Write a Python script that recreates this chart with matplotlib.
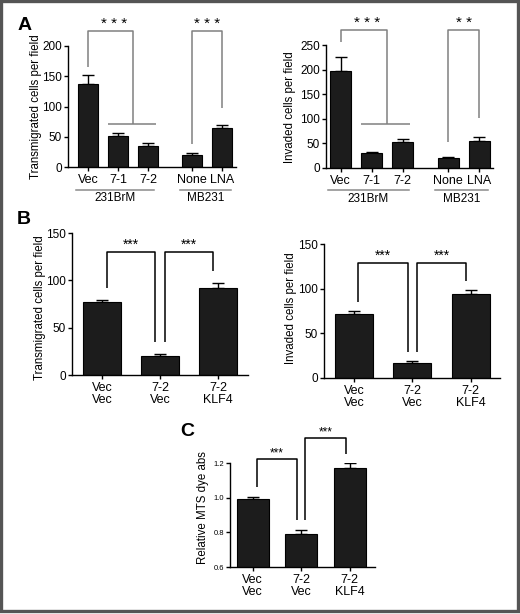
import matplotlib
matplotlib.use("Agg")
import matplotlib.pyplot as plt
from matplotlib.patches import Rectangle

plt.rcParams['font.family'] = ['Liberation Sans', 'DejaVu Sans']

# Panel A data
a_labels = ['Vec', '7-1', '7-2', 'None', 'LNA']
a_pos = [0, 1, 2, 3.47, 4.47]
a_groups = ['231BrM', 'MB231']
a_trans = [137, 51, 35, 20, 65]
a_trans_err = [15, 5, 4, 3, 5]
a_inv = [197, 30, 52, 20, 54]
a_inv_err = [28, 3, 6, 2, 8]

# Panel B data
b_labels = ['Vec\nVec', '7-2\nVec', '7-2\nKLF4']
b_trans = [77, 20, 92]
b_trans_err = [2, 2, 5]
b_inv = [72, 17, 94]
b_inv_err = [3, 2, 5]

# Panel C data
c_labels = ['Vec\nVec', '7-2\nVec', '7-2\nKLF4']
c_mts = [0.99, 0.79, 1.17]
c_mts_err = [0.015, 0.025, 0.03]

W, H = 520, 614
fig = plt.figure(figsize=(W / 100, H / 100), dpi=100)
fig.patches.append(Rectangle((0.002, 0.005), 0.994, 0.993, transform=fig.transFigure,
                             fill=False, edgecolor='#555555', linewidth=2.4))


def px_axes(x0, x1, ytop, ybot):
    return fig.add_axes([x0 / W, 1 - ybot / H, (x1 - x0) / W, (ybot - ytop) / H])


def style(ax, ylim, yticks, xlim, tick_fs=8.5):
    ax.set_ylim(*ylim)
    ax.set_xlim(*xlim)
    ax.set_yticks(yticks)
    for s in ['top', 'right']:
        ax.spines[s].set_visible(False)
    for s in ['left', 'bottom']:
        ax.spines[s].set_linewidth(1.0)
    ax.tick_params(axis='y', direction='out', length=3, width=1, labelsize=tick_fs, pad=1.2)
    ax.tick_params(axis='x', direction='out', length=3, width=1, labelsize=9, pad=2)


def bars(ax, pos, vals, errs, width):
    ax.bar(pos, vals, width=width, color='#1c1c1c', edgecolor='black', linewidth=0.8, zorder=2)
    ax.errorbar(pos, vals, yerr=[[0] * len(errs), errs], fmt='none', ecolor='black',
                elinewidth=1.0, capsize=4, capthick=1.0, zorder=1)


def ylabel(x, y, text, fs=8.3):
    fig.text(x / W, 1 - y / H, text, rotation=90, ha='center', va='center', fontsize=fs)


def seg(ax, xs, ys, color):
    ax.plot(xs, ys, color=color, lw=1.1, clip_on=False, solid_capstyle='butt')


def star_text(ax, x, y, text, fs):
    ax.text(x, y, text, ha='center', va='bottom', fontsize=fs, clip_on=False)


def group_brackets(ax, vals, errs, stars, top, gap_left, gap_grp, gap_lna, star_fs):
    span = ax.get_ylim()[1] - ax.get_ylim()[0]
    c = '#808080'
    # 231BrM: Vec vs 7-1/7-2
    y_vec = vals[0] + errs[0] + gap_left * span
    y_grp = max(vals[1] + errs[1], vals[2] + errs[2]) + gap_grp * span
    seg(ax, [a_pos[0], a_pos[0], 1.5, 1.5], [y_vec, top, top, y_grp], c)
    seg(ax, [a_pos[1] - 0.35, a_pos[2] + 0.25], [y_grp, y_grp], c)
    star_text(ax, 0.85, top, stars[0], star_fs)
    # MB231: None vs LNA
    y_none = vals[3] + errs[3] + gap_grp * span
    y_lna = vals[4] + errs[4] + gap_lna * span
    seg(ax, [a_pos[3], a_pos[3], a_pos[4], a_pos[4]], [y_none, top, top, y_lna], c)
    star_text(ax, (a_pos[3] + a_pos[4]) / 2, top, stars[1], star_fs)


def group_labels(ax, line_y, text_y):
    tr = ax.get_xaxis_transform()
    spans = [(a_pos[0] - 0.4, a_pos[2] + 0.2), (a_pos[3] - 0.42, a_pos[4] + 0.3)]
    for (x0, x1), name in zip(spans, a_groups):
        ax.plot([x0, x1], [line_y, line_y], color='#8a8a8a', lw=1.1, transform=tr, clip_on=False)
        ax.text((x0 + x1) / 2, text_y, name, transform=tr, ha='center', va='center', fontsize=8.5)


def pair_bracket(ax, i, j, vals, errs, top, gap, stars, star_fs, inset=0.08):
    span = ax.get_ylim()[1] - ax.get_ylim()[0]
    yi = vals[i] + errs[i] + gap * span
    yj = vals[j] + errs[j] + gap * span
    xi, xj = i + inset, j - inset
    seg(ax, [xi, xi, xj, xj], [yi, top, top, yj], 'black')
    star_text(ax, (xi + xj) / 2, top, stars, star_fs)


# ---- Panel A left ----
ax = px_axes(68, 236, 46, 167)
style(ax, (0, 200), [0, 50, 100, 150, 200], (-0.67, 4.93))
bars(ax, a_pos, a_trans, a_trans_err, 0.68)
ax.set_xticks(a_pos)
ax.set_xticklabels(a_labels)
group_brackets(ax, a_trans, a_trans_err, ['* * *', '* * *'], 225, 0.065, 0.075, 0.135, 11)
group_labels(ax, -0.19, -0.255)
ylabel(36, 107, 'Transmigrated cells per field')

# ---- Panel A right ----
ax = px_axes(326, 493, 45, 168)
style(ax, (0, 250), [0, 50, 100, 150, 200, 250], (-0.47, 4.92))
bars(ax, a_pos, a_inv, a_inv_err, 0.68)
ax.set_xticks(a_pos)
ax.set_xticklabels(a_labels)
group_brackets(ax, a_inv, a_inv_err, ['* * *', '* *'], 280, 0.125, 0.125, 0.16, 11)
group_labels(ax, -0.18, -0.25)
ylabel(290, 107, 'Invaded cells per field')

# ---- Panel B left ----
ax = px_axes(72, 248, 233, 375)
style(ax, (0, 150), [0, 50, 100, 150], (-0.52, 2.52))
bars(ax, range(3), b_trans, b_trans_err, 0.65)
ax.set_xticks(range(3))
ax.set_xticklabels(b_labels, linespacing=1.0)
pair_bracket(ax, 0, 1, b_trans, b_trans_err, 130, 0.085, '***', 10)
pair_bracket(ax, 1, 2, b_trans, b_trans_err, 130, 0.085, '***', 10)
ylabel(40, 308, 'Transmigrated cells per field')

# ---- Panel B right ----
ax = px_axes(324, 500, 244, 378)
style(ax, (0, 150), [0, 50, 100, 150], (-0.51, 2.5))
bars(ax, range(3), b_inv, b_inv_err, 0.65)
ax.set_xticks(range(3))
ax.set_xticklabels(b_labels, linespacing=1.0)
pair_bracket(ax, 0, 1, b_inv, b_inv_err, 129, 0.065, '***', 10)
pair_bracket(ax, 1, 2, b_inv, b_inv_err, 129, 0.065, '***', 10)
ylabel(291, 308, 'Invaded cells per field')

# ---- Panel C ----
ax = px_axes(230, 375, 463, 567)
style(ax, (0.6, 1.2), [0.6, 0.8, 1.0, 1.2], (-0.47, 2.52), tick_fs=5.5)
ax.set_yticklabels(['0.6', '0.8', '1.0', '1.2'])
bars(ax, range(3), c_mts, c_mts_err, 0.66)
ax.set_xticks(range(3))
ax.set_xticklabels(c_labels, linespacing=1.0)
pair_bracket(ax, 0, 1, c_mts, c_mts_err, 1.223, 0.09, '***', 8.5)
pair_bracket(ax, 1, 2, c_mts, c_mts_err, 1.344, 0.09, '***', 8.5)
ylabel(203, 508, 'Relative MTS dye abs', fs=8.3)

# panel letters
for x, y, t in [(18, 26, 'A'), (17, 220, 'B'), (180, 431, 'C')]:
    fig.text(x / W, 1 - y / H, t, fontsize=14, fontweight='bold', va='center', ha='left')

fig.savefig('out.png', dpi=100)
